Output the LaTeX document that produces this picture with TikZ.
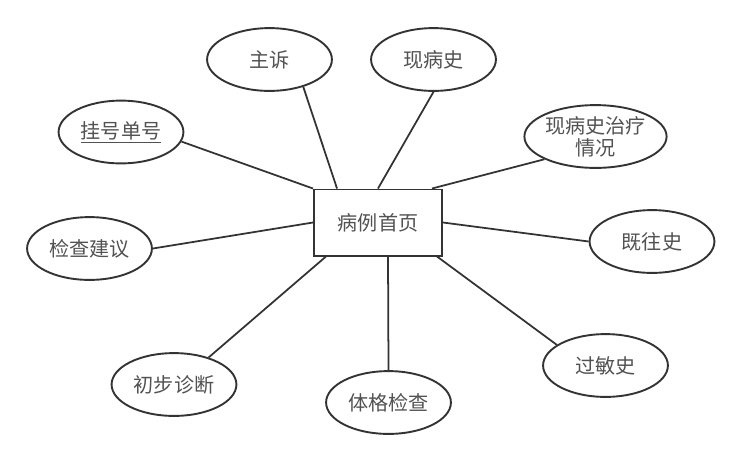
\documentclass[tikz,border=0pt]{standalone}
\usepackage{fontspec}
\setmainfont{Noto Sans CJK SC}
\usetikzlibrary{shapes.geometric}

\begin{document}
\begin{tikzpicture}[
  x=0.025cm, y=-0.025cm,
  font=\fontsize{14.3}{16}\selectfont,
  every node/.style={text=black!68, inner sep=0pt},
  field/.style={ellipse, draw=black!80, line width=1.35pt, minimum width=3.12cm, minimum height=1.57cm, fill=white},
  record/.style={rectangle, draw=black!80, line width=1.4pt, minimum width=3.2cm, minimum height=1.65cm, fill=white},
  edge/.style={draw=black!80, line width=1.25pt}
]
\useasboundingbox (0,0) rectangle (743,463);

\node[record] (page) at (378, 222.5) {病例首页};

\node[field] (zhusu)   at (269.5, 59.5)  {主诉};
\node[field] (xianbs)  at (433.5, 59.5)  {现病史};
\node[field] (guahao)  at (121, 132)     {\underline{挂号单号}};
\node[field] (zhiliao) at (595.5, 136.5) [align=center, font=\fontsize{14.3}{15.5}\selectfont] {现病史治疗\\情况};
\node[field] (jiancha) at (89.5, 248.5)  {检查建议};
\node[field] (jiwang)  at (652, 241.5)   {既往史};
\node[field] (chubu)   at (174, 384.5)   {初步诊断};
\node[field] (tige)    at (388.5, 402.5) {体格检查};
\node[field] (guomin)  at (605.5, 365.5) {过敏史};

\draw[edge] (guahao.-9)     -- (page.north west);
\draw[edge] (zhusu.-39)     -- ([xshift=0.6cm]page.north west);
\draw[edge] (xianbs.south)  -- (page.north);
\draw[edge] (zhiliao.-156)  -- ([xshift=-0.275cm]page.north east);
\draw[edge] (jiancha.east)  -- (page.west);
\draw[edge] (jiwang.west)   -- (page.east);
\draw[edge] (chubu.38)      -- ([xshift=0.325cm]page.south west);
\draw[edge] (tige.north)    -- ([xshift=0.25cm]page.south);
\draw[edge] (guomin.157)    -- ([xshift=-0.15cm]page.south east);
\end{tikzpicture}
\end{document}
